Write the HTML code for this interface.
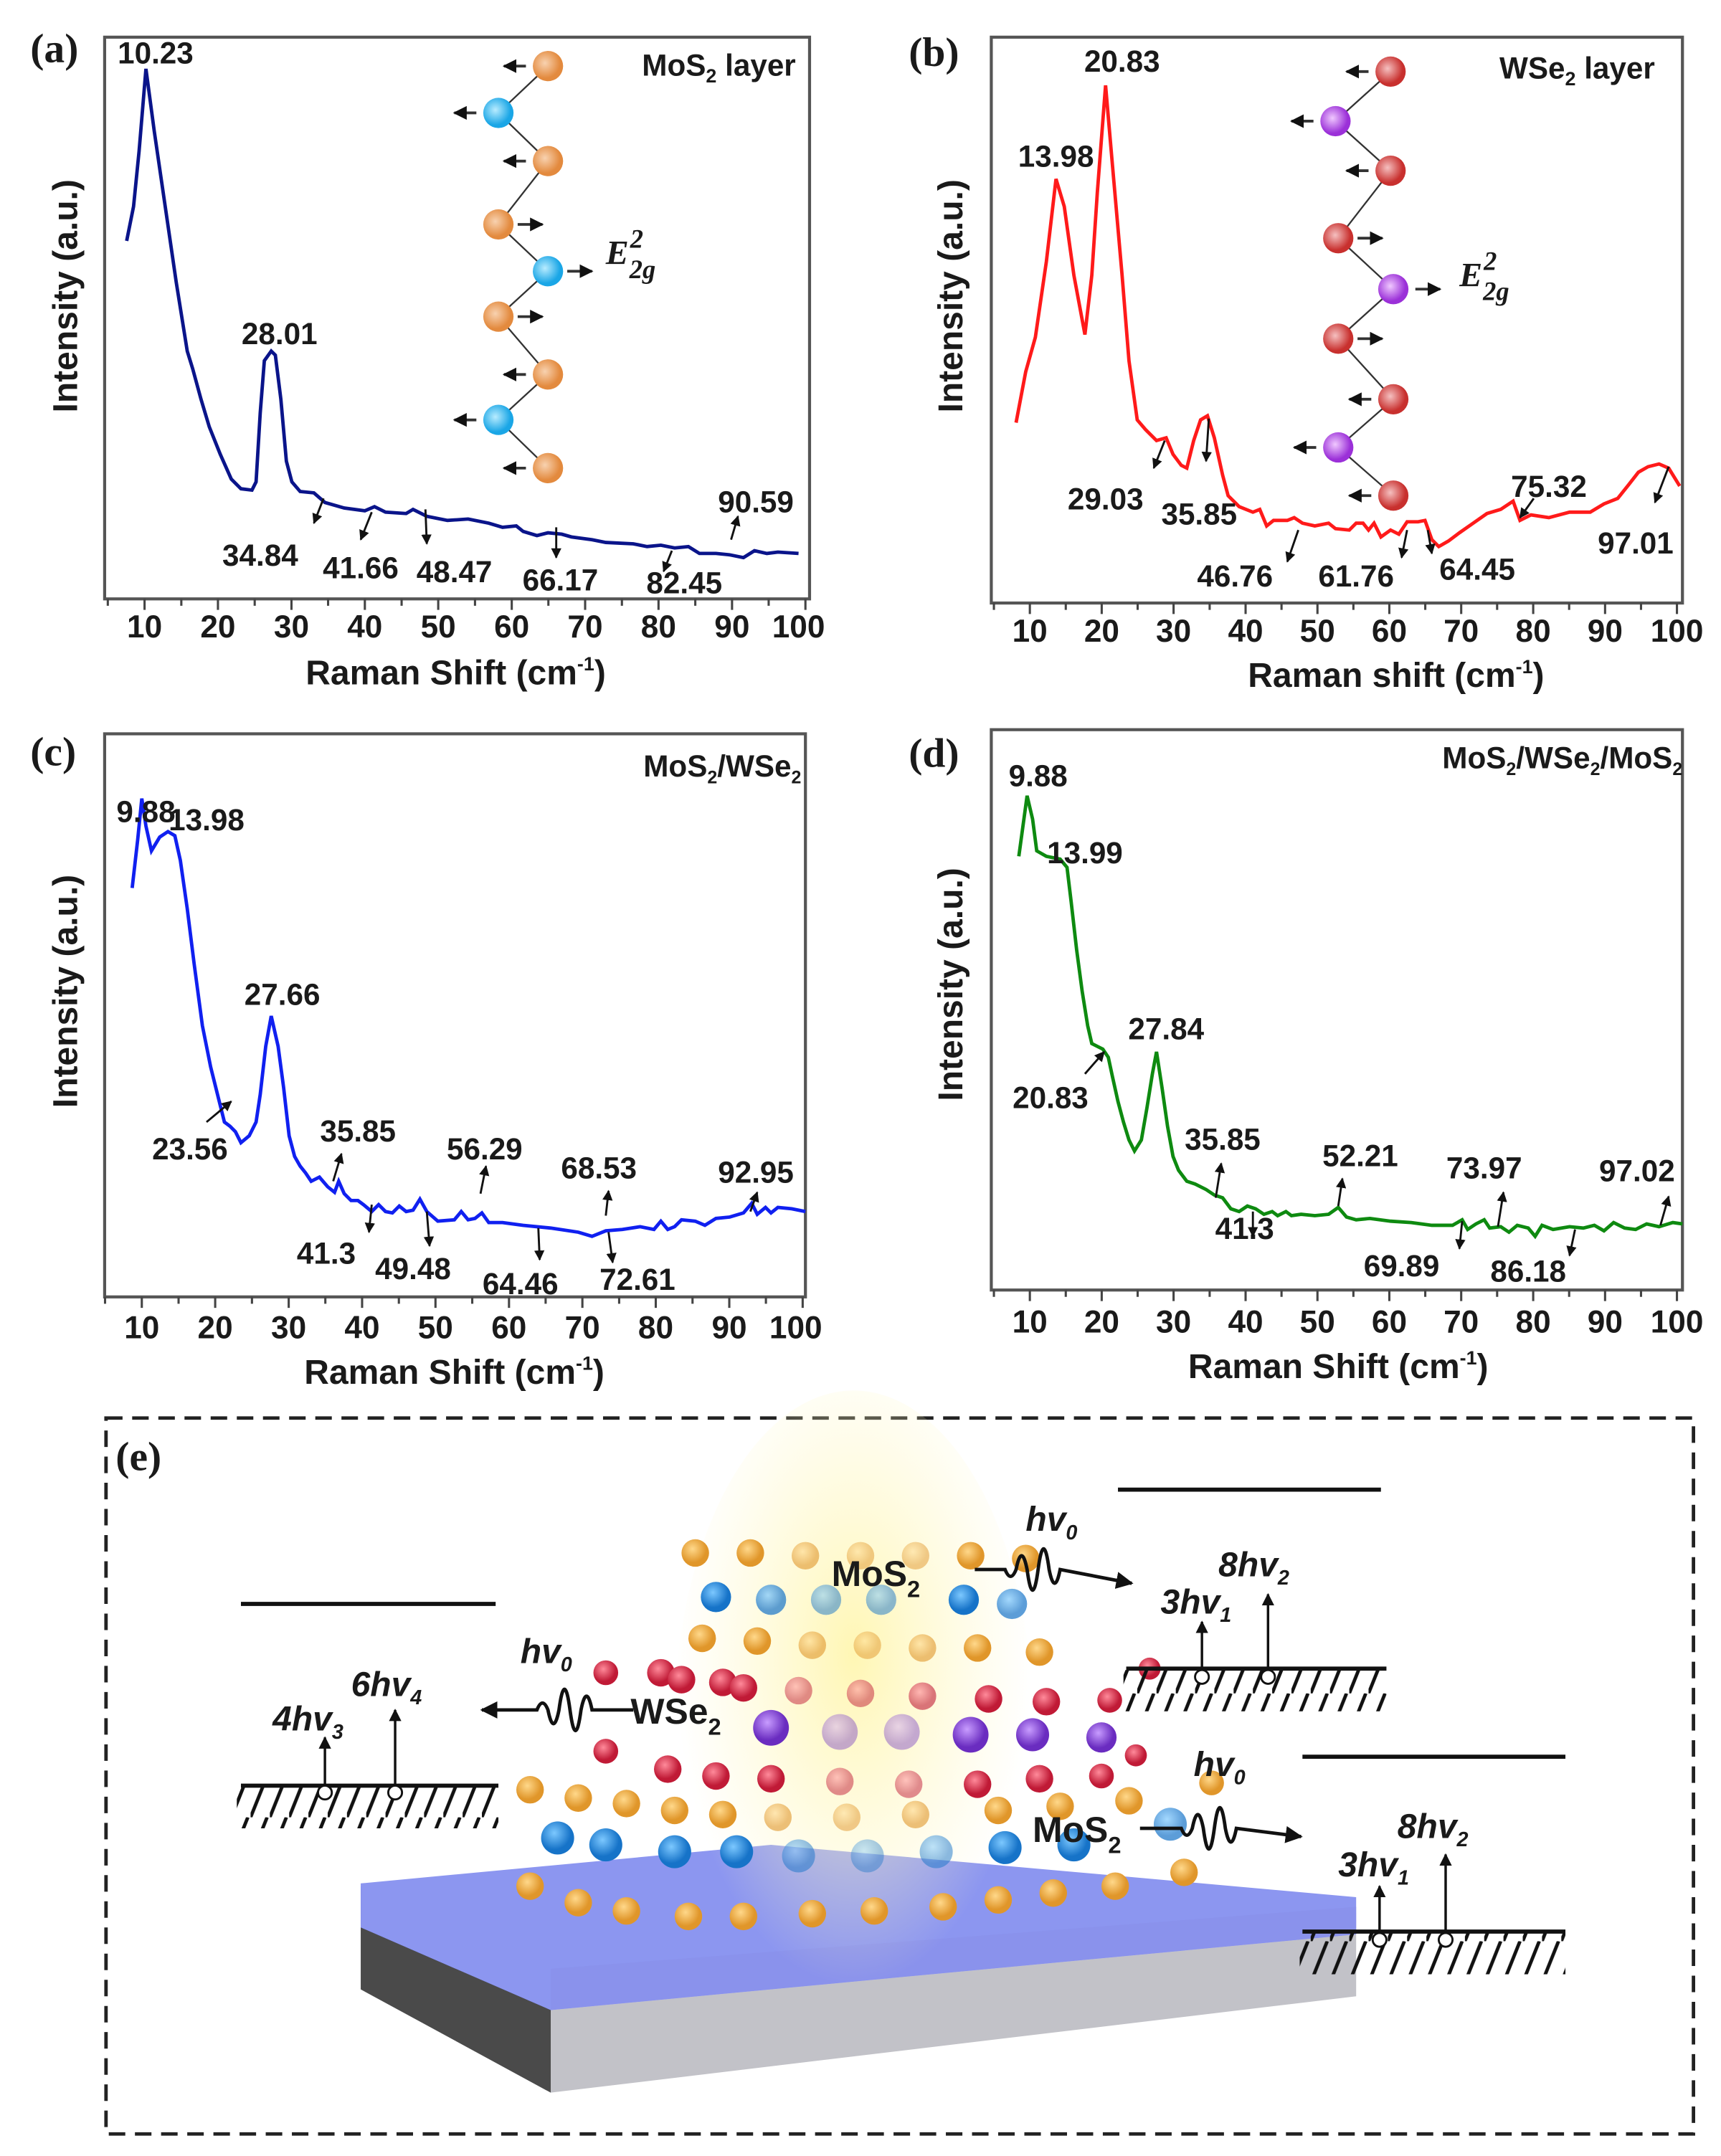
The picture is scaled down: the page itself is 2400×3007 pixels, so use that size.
<!DOCTYPE html>
<html><head><meta charset="utf-8"><style>
html,body{margin:0;padding:0;background:#fff}
svg{display:block}
text{font-family:"Liberation Sans",Arial,sans-serif;font-weight:bold;fill:#1a1a1a}
.n{font-size:22px}
.t{font-size:23px}
.ax{font-size:25px}
.pl{font-family:"Liberation Serif",serif;font-size:30px}
.it{font-family:"Liberation Serif",serif;font-style:italic;font-size:25px}
</style></head><body>
<svg width="2400" height="3007" viewBox="0 0 1250 1566" preserveAspectRatio="none" xmlns="http://www.w3.org/2000/svg">
<defs>
<marker id="ah" viewBox="0 0 10 10" refX="9" refY="5" markerWidth="5" markerHeight="5" orient="auto"><path d="M0,0L10,5L0,10z" fill="#111"/></marker>
<radialGradient id="go" cx="0.4" cy="0.4"><stop offset="0" stop-color="#f8d2b0"/><stop offset="1" stop-color="#e38a3e"/></radialGradient>
<radialGradient id="gb" cx="0.4" cy="0.4"><stop offset="0" stop-color="#b8ecff"/><stop offset="1" stop-color="#1aa6e6"/></radialGradient>
<radialGradient id="gr" cx="0.4" cy="0.4"><stop offset="0" stop-color="#f5c0c0"/><stop offset="1" stop-color="#c8302e"/></radialGradient>
<radialGradient id="gp" cx="0.4" cy="0.4"><stop offset="0" stop-color="#f0c8ff"/><stop offset="1" stop-color="#9b30d8"/></radialGradient>
<radialGradient id="glow" cx="0.5" cy="0.4"><stop offset="0" stop-color="#fff6b0" stop-opacity="0.95"/><stop offset="1" stop-color="#fff8c8" stop-opacity="0"/></radialGradient>
<radialGradient id="ao" cx="0.4" cy="0.35"><stop offset="0" stop-color="#ffd88a"/><stop offset="1" stop-color="#e0962a"/></radialGradient>
<radialGradient id="ab" cx="0.4" cy="0.35"><stop offset="0" stop-color="#7cc8ff"/><stop offset="1" stop-color="#1673c8"/></radialGradient>
<radialGradient id="ar" cx="0.4" cy="0.35"><stop offset="0" stop-color="#ff8a9a"/><stop offset="1" stop-color="#c01a36"/></radialGradient>
<radialGradient id="ap" cx="0.4" cy="0.35"><stop offset="0" stop-color="#c89cff"/><stop offset="1" stop-color="#6a2cc0"/></radialGradient>
<pattern id="hatch" width="14" height="30" patternUnits="userSpaceOnUse"><path d="M12,0L0,30" stroke="#111" stroke-width="2.5"/></pattern>
</defs>

<!-- ============ (a) ============ -->
<text class="pl" x="22" y="45">(a)</text>
<rect x="76" y="27" width="512" height="408" fill="none" stroke="#555" stroke-width="2.2"/>
<path stroke="#444" stroke-width="1.6" d="M105 435v8M158.3 435v8M211.7 435v8M265 435v8M318.3 435v8M371.7 435v8M425 435v8M478.3 435v8M531.7 435v8M585 435v8M78.3 435v5M131.7 435v5M185 435v5M238.3 435v5M291.7 435v5M345 435v5M398.3 435v5M451.7 435v5M505 435v5M558.3 435v5"/>
<g class="t" text-anchor="middle"><text x="105" y="463">10</text><text x="158.3" y="463">20</text><text x="211.7" y="463">30</text><text x="265" y="463">40</text><text x="318.3" y="463">50</text><text x="371.7" y="463">60</text><text x="425" y="463">70</text><text x="478.3" y="463">80</text><text x="531.7" y="463">90</text><text x="580" y="463">100</text></g>
<text class="ax" x="331" y="497" text-anchor="middle">Raman Shift (cm<tspan font-size="14" dy="-10">-1</tspan><tspan dy="10">)</tspan></text>
<text class="ax" transform="translate(56,215) rotate(-90)" text-anchor="middle">Intensity (a.u.)</text>
<polyline fill="none" stroke="#0a148a" stroke-width="2.5" points="92,175 97,150 101,110 106,50 112,95 120,150 128,205 136,255 140,268 146,290 152,310 160,330 168,348 175,355 183,356 186,350 189,300 192,262 197,255 200,258 204,290 208,335 212,350 218,357 228,358 236,365 250,369 265,371 272,368 280,372 295,373 300,370 310,375 325,378 340,377 355,380 365,383 375,382 380,386 390,389 398,387 408,388 415,390 430,392 440,394 460,395 470,397 480,396 490,398 500,397 508,402 520,402 530,403 540,405 548,400 557,402 565,401 580,402"/>
<g class="n" text-anchor="middle">
<text x="113" y="46">10.23</text><text x="203" y="250">28.01</text><text x="189" y="411">34.84</text><text x="262" y="420">41.66</text><text x="330" y="423">48.47</text><text x="407" y="429">66.17</text><text x="497" y="431">82.45</text><text x="549" y="372">90.59</text></g>
<text class="n" x="578" y="55" text-anchor="end">MoS<tspan font-size="14" dy="5">2</tspan><tspan dy="-5"> layer</tspan></text>
<g stroke="#111" stroke-width="1.5" fill="none" marker-end="url(#ah)">
<line x1="235" y1="362" x2="228" y2="380"/><line x1="270" y1="372" x2="262" y2="392"/><line x1="309" y1="370" x2="310" y2="395"/><line x1="404" y1="383" x2="404" y2="405"/><line x1="488" y1="400" x2="482" y2="415"/><line x1="531" y1="392" x2="536" y2="375"/></g>
<g stroke="#333" stroke-width="1.2" fill="none">
<polyline points="398,48 362,82 398,117 362,163 398,197 362,230 398,272 362,305 398,340"/></g>
<g><circle cx="398" cy="48" r="11" fill="url(#go)"/><circle cx="362" cy="82" r="11" fill="url(#gb)"/><circle cx="398" cy="117" r="11" fill="url(#go)"/><circle cx="362" cy="163" r="11" fill="url(#go)"/><circle cx="398" cy="197" r="11" fill="url(#gb)"/><circle cx="362" cy="230" r="11" fill="url(#go)"/><circle cx="398" cy="272" r="11" fill="url(#go)"/><circle cx="362" cy="305" r="11" fill="url(#gb)"/><circle cx="398" cy="340" r="11" fill="url(#go)"/></g>
<g stroke="#333" stroke-width="2" marker-end="url(#ah)">
<line x1="382" y1="48" x2="366" y2="48"/><line x1="346" y1="82" x2="330" y2="82"/><line x1="382" y1="117" x2="366" y2="117"/><line x1="376" y1="163" x2="394" y2="163"/><line x1="412" y1="197" x2="430" y2="197"/><line x1="376" y1="230" x2="394" y2="230"/><line x1="382" y1="272" x2="366" y2="272"/><line x1="346" y1="305" x2="330" y2="305"/><line x1="382" y1="340" x2="366" y2="340"/></g>
<text class="it" x="440" y="192" font-size="28">E<tspan font-size="19" dx="1" dy="-12">2</tspan><tspan font-size="19" dx="-10" dy="22">2g</tspan></text>

<!-- ============ (b) ============ -->
<text class="pl" x="660" y="48">(b)</text>
<rect x="720" y="27" width="502" height="411" fill="none" stroke="#555" stroke-width="2.2"/>
<path stroke="#444" stroke-width="1.6" d="M748 438v8M800.2 438v8M852.4 438v8M904.7 438v8M956.9 438v8M1009.1 438v8M1061.3 438v8M1113.6 438v8M1165.8 438v8M1218 438v8M721.9 438v5M774.1 438v5M826.3 438v5M878.6 438v5M930.8 438v5M983 438v5M1035.2 438v5M1087.4 438v5M1139.7 438v5M1191.9 438v5"/>
<g class="t" text-anchor="middle"><text x="748" y="466">10</text><text x="800.2" y="466">20</text><text x="852.4" y="466">30</text><text x="904.7" y="466">40</text><text x="956.9" y="466">50</text><text x="1009.1" y="466">60</text><text x="1061.3" y="466">70</text><text x="1113.6" y="466">80</text><text x="1165.8" y="466">90</text><text x="1218" y="466">100</text></g>
<text class="ax" x="1014" y="499" text-anchor="middle">Raman shift (cm<tspan font-size="14" dy="-10">-1</tspan><tspan dy="10">)</tspan></text>
<text class="ax" transform="translate(699,215) rotate(-90)" text-anchor="middle">Intensity (a.u.)</text>
<polyline fill="none" stroke="#ff1a1a" stroke-width="2.5" points="738,307 745,270 752,245 760,190 767,130 773,150 780,200 788,243 793,200 797,140 803,62 808,120 815,200 820,262 826,305 832,312 840,320 847,318 852,330 858,338 862,340 867,320 872,305 877,302 882,318 888,345 892,360 900,368 910,372 915,370 920,382 925,378 935,378 940,376 946,380 955,382 965,380 970,384 980,385 985,380 990,380 994,385 998,380 1003,390 1010,385 1016,388 1022,379 1030,379 1035,378 1040,392 1045,397 1052,393 1060,387 1070,380 1080,373 1090,370 1099,364 1104,378 1112,374 1125,376 1140,372 1155,372 1165,366 1175,362 1183,352 1190,343 1197,339 1205,337 1212,340 1220,353"/>
<g class="n" text-anchor="middle">
<text x="767" y="121">13.98</text><text x="815" y="52">20.83</text><text x="803" y="370">29.03</text><text x="871" y="381">35.85</text><text x="897" y="426">46.76</text><text x="985" y="426">61.76</text><text x="1073" y="421">64.45</text><text x="1125" y="361">75.32</text><text x="1188" y="402">97.01</text></g>
<text class="n" x="1202" y="57" text-anchor="end">WSe<tspan font-size="14" dy="5">2</tspan><tspan dy="-5"> layer</tspan></text>
<g stroke="#111" stroke-width="1.5" fill="none" marker-end="url(#ah)">
<line x1="846" y1="320" x2="838" y2="340"/><line x1="878" y1="304" x2="876" y2="335"/><line x1="943" y1="385" x2="935" y2="408"/><line x1="1022" y1="385" x2="1018" y2="405"/><line x1="1037" y1="385" x2="1040" y2="402"/><line x1="1114" y1="362" x2="1104" y2="376"/><line x1="1212" y1="339" x2="1202" y2="365"/></g>
<g stroke="#333" stroke-width="1.2" fill="none"><polyline points="1010,52 970,88 1010,124 972,173 1012,210 972,246 1012,290 972,325 1012,360"/></g>
<g><circle cx="1010" cy="52" r="11" fill="url(#gr)"/><circle cx="970" cy="88" r="11" fill="url(#gp)"/><circle cx="1010" cy="124" r="11" fill="url(#gr)"/><circle cx="972" cy="173" r="11" fill="url(#gr)"/><circle cx="1012" cy="210" r="11" fill="url(#gp)"/><circle cx="972" cy="246" r="11" fill="url(#gr)"/><circle cx="1012" cy="290" r="11" fill="url(#gr)"/><circle cx="972" cy="325" r="11" fill="url(#gp)"/><circle cx="1012" cy="360" r="11" fill="url(#gr)"/></g>
<g stroke="#333" stroke-width="2" marker-end="url(#ah)">
<line x1="994" y1="52" x2="978" y2="52"/><line x1="954" y1="88" x2="938" y2="88"/><line x1="994" y1="124" x2="978" y2="124"/><line x1="986" y1="173" x2="1004" y2="173"/><line x1="1028" y1="210" x2="1046" y2="210"/><line x1="986" y1="246" x2="1004" y2="246"/><line x1="996" y1="290" x2="980" y2="290"/><line x1="956" y1="325" x2="940" y2="325"/><line x1="996" y1="360" x2="980" y2="360"/></g>
<text class="it" x="1060" y="208" font-size="28">E<tspan font-size="19" dx="1" dy="-12">2</tspan><tspan font-size="19" dx="-10" dy="22">2g</tspan></text>

<!-- ============ (c) ============ -->
<text class="pl" x="22" y="556">(c)</text>
<rect x="76" y="533" width="509" height="409" fill="none" stroke="#555" stroke-width="2.2"/>
<path stroke="#444" stroke-width="1.6" d="M103 942v8M156.3 942v8M209.7 942v8M263 942v8M316.3 942v8M369.7 942v8M423 942v8M476.3 942v8M529.7 942v8M583 942v8M76.3 942v5M129.7 942v5M183 942v5M236.3 942v5M289.7 942v5M343 942v5M396.3 942v5M449.7 942v5M503 942v5M556.3 942v5"/>
<g class="t" text-anchor="middle"><text x="103" y="972">10</text><text x="156.3" y="972">20</text><text x="209.7" y="972">30</text><text x="263" y="972">40</text><text x="316.3" y="972">50</text><text x="369.7" y="972">60</text><text x="423" y="972">70</text><text x="476.3" y="972">80</text><text x="529.7" y="972">90</text><text x="578" y="972">100</text></g>
<text class="ax" x="330" y="1005" text-anchor="middle">Raman Shift (cm<tspan font-size="14" dy="-10">-1</tspan><tspan dy="10">)</tspan></text>
<text class="ax" transform="translate(56,720) rotate(-90)" text-anchor="middle">Intensity (a.u.)</text>
<polyline fill="none" stroke="#1020f0" stroke-width="2.5" points="96,645 100,610 103,580 106,600 110,618 116,608 122,604 127,607 131,625 136,660 141,700 147,745 153,775 158,795 163,815 167,818 171,822 175,830 181,825 186,815 189,795 193,760 197,738 202,760 206,790 210,825 214,840 218,847 222,852 226,858 232,855 238,862 243,866 246,858 250,867 255,872 260,872 264,875 270,880 275,875 280,880 285,881 290,876 295,880 300,879 305,871 310,880 318,887 330,886 335,880 340,886 345,885 350,881 355,888 365,888 380,890 400,892 420,895 430,898 440,894 452,893 465,891 475,893 480,887 485,893 490,891 495,886 505,887 512,890 520,885 530,884 540,881 546,874 550,882 556,877 560,881 565,877 575,878 585,880"/>
<g class="n" text-anchor="middle">
<text x="106" y="597">9.88</text><text x="150" y="603">13.98</text><text x="205" y="730">27.66</text><text x="138" y="842">23.56</text><text x="260" y="829">35.85</text><text x="237" y="918">41.3</text><text x="300" y="929">49.48</text><text x="352" y="842">56.29</text><text x="378" y="940">64.46</text><text x="435" y="856">68.53</text><text x="463" y="937">72.61</text><text x="549" y="859">92.95</text></g>
<text class="n" x="582" y="564" text-anchor="end" font-size="20">MoS<tspan font-size="13" dy="5">2</tspan><tspan dy="-5">/WSe</tspan><tspan font-size="13" dy="5">2</tspan></text>
<g stroke="#111" stroke-width="1.5" fill="none" marker-end="url(#ah)">
<line x1="150" y1="815" x2="168" y2="800"/><line x1="242" y1="858" x2="248" y2="838"/><line x1="270" y1="875" x2="268" y2="895"/><line x1="310" y1="880" x2="312" y2="905"/><line x1="349" y1="867" x2="353" y2="847"/><line x1="391" y1="892" x2="392" y2="915"/><line x1="440" y1="883" x2="442" y2="865"/><line x1="442" y1="895" x2="445" y2="917"/><line x1="545" y1="880" x2="550" y2="866"/></g>

<!-- ============ (d) ============ -->
<text class="pl" x="660" y="557">(d)</text>
<rect x="720" y="530" width="502" height="407" fill="none" stroke="#555" stroke-width="2.2"/>
<path stroke="#444" stroke-width="1.6" d="M748 937v8M800.2 937v8M852.4 937v8M904.7 937v8M956.9 937v8M1009.1 937v8M1061.3 937v8M1113.6 937v8M1165.8 937v8M1218 937v8M721.9 937v5M774.1 937v5M826.3 937v5M878.6 937v5M930.8 937v5M983 937v5M1035.2 937v5M1087.4 937v5M1139.7 937v5M1191.9 937v5"/>
<g class="t" text-anchor="middle"><text x="748" y="968">10</text><text x="800.2" y="968">20</text><text x="852.4" y="968">30</text><text x="904.7" y="968">40</text><text x="956.9" y="968">50</text><text x="1009.1" y="968">60</text><text x="1061.3" y="968">70</text><text x="1113.6" y="968">80</text><text x="1165.8" y="968">90</text><text x="1218" y="968">100</text></g>
<text class="ax" x="972" y="1001" text-anchor="middle">Raman Shift (cm<tspan font-size="14" dy="-10">-1</tspan><tspan dy="10">)</tspan></text>
<text class="ax" transform="translate(699,715) rotate(-90)" text-anchor="middle">Intensity (a.u.)</text>
<polyline fill="none" stroke="#0e8a10" stroke-width="2.5" points="740,622 743,600 746,578 750,595 753,618 760,622 770,624 775,630 778,655 782,690 786,720 790,745 793,758 797,760 801,762 805,768 808,782 812,800 816,815 820,828 824,836 829,828 833,805 837,780 840,764 844,790 848,818 852,840 856,850 862,858 868,860 876,864 882,868 888,870 894,878 900,880 906,876 912,878 918,882 924,880 928,883 934,880 938,883 945,882 955,883 965,882 972,877 978,884 985,886 995,885 1010,887 1025,888 1040,890 1055,890 1062,886 1066,893 1072,889 1078,886 1082,892 1090,891 1096,895 1102,890 1110,892 1115,898 1120,890 1128,893 1140,891 1150,892 1158,890 1165,894 1172,888 1180,892 1188,893 1196,889 1205,891 1215,888 1222,889"/>
<g class="n" text-anchor="middle">
<text x="754" y="571">9.88</text><text x="788" y="627">13.99</text><text x="847" y="755">27.84</text><text x="763" y="805">20.83</text><text x="888" y="835">35.85</text><text x="904" y="900">41.3</text><text x="988" y="847">52.21</text><text x="1018" y="927">69.89</text><text x="1078" y="856">73.97</text><text x="1110" y="931">86.18</text><text x="1189" y="858">97.02</text></g>
<text class="n" x="1222" y="558" text-anchor="end" font-size="20">MoS<tspan font-size="13" dy="5">2</tspan><tspan dy="-5">/WSe</tspan><tspan font-size="13" dy="5">2</tspan><tspan dy="-5">/MoS</tspan><tspan font-size="13" dy="5">2</tspan></text>
<g stroke="#111" stroke-width="1.5" fill="none" marker-end="url(#ah)">
<line x1="788" y1="780" x2="802" y2="764"/><line x1="883" y1="870" x2="887" y2="845"/><line x1="910" y1="880" x2="910" y2="898"/><line x1="972" y1="876" x2="975" y2="856"/><line x1="1062" y1="887" x2="1060" y2="907"/><line x1="1088" y1="891" x2="1092" y2="866"/><line x1="1144" y1="893" x2="1140" y2="912"/><line x1="1206" y1="890" x2="1212" y2="869"/></g>

<!-- ============ (e) ============ -->
<rect x="77" y="1030" width="1153" height="520" fill="none" stroke="#222" stroke-width="2.5" stroke-dasharray="12,7"/>
<text class="pl" x="84" y="1068" font-size="26">(e)</text>
<polygon points="262,1370 400,1430 400,1520 262,1445" fill="#4a4a4a"/>
<polygon points="262,1370 400,1430 400,1460 262,1400" fill="#3a4278"/>
<polygon points="400,1460 985,1405 985,1450 400,1520" fill="#c2c2c8"/>
<polygon points="262,1368 560,1340 985,1378 985,1405 400,1460 262,1400" fill="#8c96f0"/>
<polygon points="400,1430 985,1385 985,1405 400,1460" fill="#8a92ec"/>
<ellipse cx="620" cy="1250" rx="130" ry="240" fill="url(#glow)"/>
<g>
<circle cx="505" cy="1128" r="10" fill="url(#ao)"/><circle cx="545" cy="1128" r="10" fill="url(#ao)"/><circle cx="585" cy="1130" r="10" fill="url(#ao)" opacity=".6"/><circle cx="625" cy="1130" r="10" fill="url(#ao)" opacity=".5"/><circle cx="665" cy="1130" r="10" fill="url(#ao)" opacity=".5"/><circle cx="705" cy="1130" r="10" fill="url(#ao)"/><circle cx="745" cy="1132" r="10" fill="url(#ao)"/>
<circle cx="520" cy="1160" r="11" fill="url(#ab)"/><circle cx="560" cy="1162" r="11" fill="url(#ab)" opacity=".7"/><circle cx="600" cy="1162" r="11" fill="url(#ab)" opacity=".5"/><circle cx="640" cy="1162" r="11" fill="url(#ab)" opacity=".5"/><circle cx="700" cy="1162" r="11" fill="url(#ab)"/><circle cx="735" cy="1165" r="11" fill="url(#ab)" opacity=".7"/>
<circle cx="510" cy="1190" r="10" fill="url(#ao)"/><circle cx="550" cy="1192" r="10" fill="url(#ao)"/><circle cx="590" cy="1195" r="10" fill="url(#ao)" opacity=".6"/><circle cx="630" cy="1195" r="10" fill="url(#ao)" opacity=".5"/><circle cx="670" cy="1197" r="10" fill="url(#ao)" opacity=".6"/><circle cx="710" cy="1197" r="10" fill="url(#ao)"/><circle cx="755" cy="1200" r="10" fill="url(#ao)"/>
</g>
<g>
<circle cx="440" cy="1215" r="9" fill="url(#ar)"/><circle cx="480" cy="1215" r="10" fill="url(#ar)"/><circle cx="495" cy="1220" r="10" fill="url(#ar)"/><circle cx="525" cy="1222" r="10" fill="url(#ar)"/><circle cx="540" cy="1226" r="10" fill="url(#ar)"/><circle cx="580" cy="1228" r="10" fill="url(#ar)" opacity=".5"/><circle cx="625" cy="1230" r="10" fill="url(#ar)" opacity=".5"/><circle cx="670" cy="1232" r="10" fill="url(#ar)" opacity=".6"/><circle cx="718" cy="1234" r="10" fill="url(#ar)"/><circle cx="760" cy="1236" r="10" fill="url(#ar)"/><circle cx="806" cy="1235" r="9" fill="url(#ar)"/><circle cx="835" cy="1212" r="8" fill="url(#ar)"/>
<circle cx="560" cy="1255" r="13" fill="url(#ap)"/><circle cx="610" cy="1258" r="13" fill="url(#ap)" opacity=".4"/><circle cx="655" cy="1258" r="13" fill="url(#ap)" opacity=".4"/><circle cx="705" cy="1260" r="13" fill="url(#ap)"/><circle cx="750" cy="1260" r="12" fill="url(#ap)"/><circle cx="800" cy="1262" r="11" fill="url(#ap)"/>
<circle cx="440" cy="1272" r="9" fill="url(#ar)"/><circle cx="485" cy="1285" r="10" fill="url(#ar)"/><circle cx="520" cy="1290" r="10" fill="url(#ar)"/><circle cx="560" cy="1292" r="10" fill="url(#ar)"/><circle cx="610" cy="1294" r="10" fill="url(#ar)" opacity=".5"/><circle cx="660" cy="1296" r="10" fill="url(#ar)" opacity=".5"/><circle cx="710" cy="1296" r="10" fill="url(#ar)"/><circle cx="755" cy="1292" r="10" fill="url(#ar)"/><circle cx="800" cy="1290" r="9" fill="url(#ar)"/><circle cx="825" cy="1275" r="8" fill="url(#ar)"/>
</g>
<g>
<circle cx="385" cy="1300" r="10" fill="url(#ao)"/><circle cx="420" cy="1306" r="10" fill="url(#ao)"/><circle cx="455" cy="1310" r="10" fill="url(#ao)"/><circle cx="490" cy="1315" r="10" fill="url(#ao)"/><circle cx="525" cy="1318" r="10" fill="url(#ao)"/><circle cx="565" cy="1320" r="10" fill="url(#ao)" opacity=".6"/><circle cx="615" cy="1320" r="10" fill="url(#ao)" opacity=".5"/><circle cx="665" cy="1318" r="10" fill="url(#ao)" opacity=".6"/><circle cx="725" cy="1315" r="10" fill="url(#ao)"/><circle cx="770" cy="1312" r="10" fill="url(#ao)"/><circle cx="820" cy="1308" r="10" fill="url(#ao)"/><circle cx="880" cy="1295" r="9" fill="url(#ao)"/>
<circle cx="405" cy="1335" r="12" fill="url(#ab)"/><circle cx="440" cy="1340" r="12" fill="url(#ab)"/><circle cx="490" cy="1345" r="12" fill="url(#ab)"/><circle cx="535" cy="1345" r="12" fill="url(#ab)"/><circle cx="580" cy="1348" r="12" fill="url(#ab)" opacity=".5"/><circle cx="630" cy="1348" r="12" fill="url(#ab)" opacity=".4"/><circle cx="680" cy="1345" r="12" fill="url(#ab)" opacity=".5"/><circle cx="730" cy="1342" r="12" fill="url(#ab)"/><circle cx="780" cy="1340" r="12" fill="url(#ab)"/><circle cx="850" cy="1325" r="12" fill="url(#ab)" opacity=".7"/>
<circle cx="385" cy="1370" r="10" fill="url(#ao)"/><circle cx="420" cy="1382" r="10" fill="url(#ao)"/><circle cx="455" cy="1388" r="10" fill="url(#ao)"/><circle cx="500" cy="1392" r="10" fill="url(#ao)"/><circle cx="540" cy="1392" r="10" fill="url(#ao)"/><circle cx="590" cy="1390" r="10" fill="url(#ao)"/><circle cx="635" cy="1388" r="10" fill="url(#ao)"/><circle cx="685" cy="1385" r="10" fill="url(#ao)"/><circle cx="725" cy="1380" r="10" fill="url(#ao)"/><circle cx="765" cy="1375" r="10" fill="url(#ao)"/><circle cx="810" cy="1370" r="10" fill="url(#ao)"/><circle cx="860" cy="1360" r="10" fill="url(#ao)"/>
</g>
<g stroke="#111" stroke-width="3">
<line x1="175" y1="1165" x2="360" y2="1165"/><line x1="175" y1="1297" x2="362" y2="1297"/>
<line x1="812" y1="1082" x2="1003" y2="1082"/><line x1="818" y1="1212" x2="1007" y2="1212"/>
<line x1="946" y1="1276" x2="1137" y2="1276"/><line x1="946" y1="1403" x2="1137" y2="1403"/></g>
<rect x="172" y="1298" width="190" height="30" fill="url(#hatch)"/>
<rect x="816" y="1213" width="191" height="30" fill="url(#hatch)"/>
<rect x="944" y="1404" width="193" height="30" fill="url(#hatch)"/>
<g stroke="#111" stroke-width="1.8" marker-end="url(#ah)">
<line x1="236" y1="1297" x2="236" y2="1262"/><line x1="287" y1="1297" x2="287" y2="1242"/>
<line x1="873" y1="1212" x2="873" y2="1178"/><line x1="921" y1="1212" x2="921" y2="1158"/>
<line x1="1002" y1="1403" x2="1002" y2="1370"/><line x1="1050" y1="1403" x2="1050" y2="1347"/></g>
<g fill="#fff" stroke="#111" stroke-width="1.5"><circle cx="236" cy="1302" r="5"/><circle cx="287" cy="1302" r="5"/><circle cx="873" cy="1218" r="5"/><circle cx="921" cy="1218" r="5"/><circle cx="1002" cy="1409" r="5"/><circle cx="1050" cy="1409" r="5"/></g>
<g class="it" font-weight="bold">
<text x="198" y="1257">4hv<tspan font-size="15" dy="6">3</tspan></text><text x="255" y="1232">6hv<tspan font-size="15" dy="6">4</tspan></text>
<text x="843" y="1172">3hv<tspan font-size="15" dy="6">1</tspan></text><text x="885" y="1145">8hv<tspan font-size="15" dy="6">2</tspan></text>
<text x="972" y="1363">3hv<tspan font-size="15" dy="6">1</tspan></text><text x="1015" y="1335">8hv<tspan font-size="15" dy="6">2</tspan></text>
<text x="378" y="1208">hv<tspan font-size="15" dy="6">0</tspan></text><text x="745" y="1112">hv<tspan font-size="15" dy="6">0</tspan></text><text x="867" y="1290">hv<tspan font-size="15" dy="6">0</tspan></text></g>
<g fill="none" stroke="#111" stroke-width="2.5">
<path d="M460,1242 L430,1242 q-4,-20 -8,0 q-4,30 -8,0 q-4,-30 -8,0 q-4,20 -8,0 q-4,-10 -8,0 L350,1242" marker-end="url(#ah)"/>
<path d="M708,1140 L730,1140 q4,10 8,0 q4,-20 8,0 q4,30 8,0 q4,-30 8,0 q4,20 8,0 L822,1150" marker-end="url(#ah)"/>
<path d="M828,1328 L858,1328 q4,10 8,0 q4,-20 8,0 q4,30 8,0 q4,-30 8,0 q4,20 8,0 L945,1334" marker-end="url(#ah)"/></g>
<g font-size="26" font-weight="bold">
<text x="604" y="1152">MoS<tspan font-size="17" dy="8">2</tspan></text>
<text x="458" y="1252">WSe<tspan font-size="17" dy="8">2</tspan></text>
<text x="750" y="1338">MoS<tspan font-size="17" dy="8">2</tspan></text></g>
</svg>
</body></html>
